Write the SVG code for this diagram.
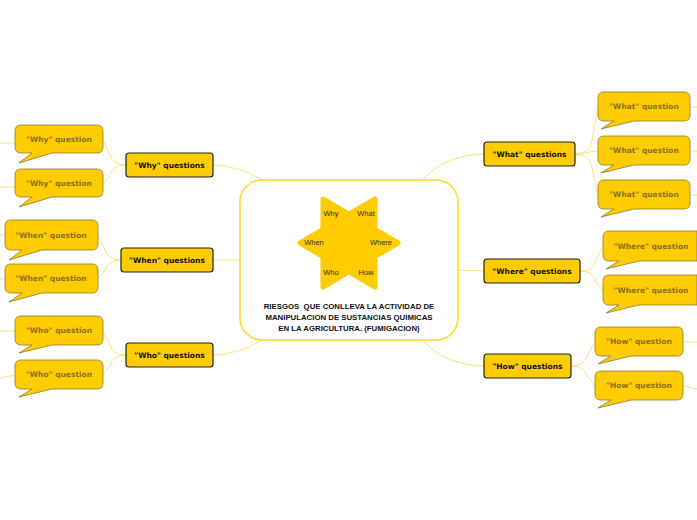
<svg xmlns="http://www.w3.org/2000/svg" width="697" height="520" viewBox="0 0 697 520">
<defs>
<style>
.c{fill:none;stroke:#FFE27A;stroke-width:1}
.m{fill:#FFCC00;stroke:#222;stroke-width:1.2}
.mt{font-family:"DejaVu Sans",sans-serif;font-size:7.5px;font-weight:bold;fill:#111;text-anchor:middle}
.q{fill:#FFCC00;stroke:#8a7a30;stroke-width:0.8}
.qt{font-family:"DejaVu Sans",sans-serif;font-size:7.5px;font-weight:bold;fill:#8a7020;text-anchor:middle}
.st{font-family:"Liberation Sans",sans-serif;font-size:7.5px;fill:#333;text-anchor:middle}
.ct{font-family:"Liberation Sans",sans-serif;font-size:7.8px;font-weight:bold;fill:#111;text-anchor:middle}
</style>
</defs>
<rect width="697" height="520" fill="#fff"/>
<g id="connectors">
<path class="c" d="M262 180 Q240 166 213 165"/>
<path class="c" d="M240 260 L213 260"/>
<path class="c" d="M262 340 Q240 354 213 355"/>
<path class="c" d="M422 180 Q445 155 484 154"/>
<path class="c" d="M458 270 L484 271"/>
<path class="c" d="M422 340 Q445 365 484 366"/>
<path class="c" d="M126 165 Q113 165 110 155 L103 140 M126 165 Q113 165 110 175 L103 184"/>
<path class="c" d="M121 260 Q108 260 105 250 L98 235 M121 260 Q108 260 105 270 L98 279"/>
<path class="c" d="M126 355 Q113 355 110 345 L103 331 M126 355 Q113 355 110 365 L103 375"/>
<path class="c" d="M575 154 Q590 154 592 140 L598 107 M575 154 L598 151 M575 154 Q590 154 592 168 L598 195"/>
<path class="c" d="M580 271 Q594 271 596 260 L603 246 M580 271 Q594 271 596 282 L603 290"/>
<path class="c" d="M571 366 Q584 366 587 356 L595 342 M571 366 Q584 366 587 376 L595 386"/>
<path class="c" d="M15 143 L0 143 M15 187 L0 187 M5 235 L0 235 M5 279 L0 279 M15 331 L0 331 M15 375 L0 378"/>
<path class="c" d="M690 107 L697 107 M690 151 L697 151 M690 195 L697 195 M683 342 L697 342 M683 386 L697 389"/>
</g>
<g id="center">
<rect x="240" y="180" width="218" height="160" rx="22" fill="#fff" stroke="#FFD92E" stroke-width="1.6"/>
<polygon points="323,199 398,243 323,287" fill="#FFCC00" stroke="#FFCC00" stroke-width="5" stroke-linejoin="round"/>
<polygon points="375,199 300,243 375,287" fill="#FFCC00" stroke="#FFCC00" stroke-width="5" stroke-linejoin="round"/>
<text class="st" x="331" y="216">Why</text>
<text class="st" x="366" y="216">What</text>
<text class="st" x="314" y="245">When</text>
<text class="st" x="381" y="245">Where</text>
<text class="st" x="331" y="275">Who</text>
<text class="st" x="366" y="275">How</text>
<text class="ct" x="349" y="309" xml:space="preserve">RIESGOS  QUE CONLLEVA LA ACTIVIDAD DE</text>
<text class="ct" x="349" y="320">MANIPULACION DE SUSTANCIAS QUIMICAS</text>
<text class="ct" x="349" y="331">EN LA AGRICULTURA. (FUMIGACION)</text>
</g>
<g id="why"><rect class="m" x="126" y="153" width="87" height="24" rx="3"/><text class="mt" x="169.5" y="168">"Why" questions</text></g>
<g id="when"><rect class="m" x="121" y="248" width="92" height="24" rx="3"/><text class="mt" x="167" y="263">"When" questions</text></g>
<g id="who"><rect class="m" x="126" y="343" width="87" height="24" rx="3"/><text class="mt" x="169.5" y="358">"Who" questions</text></g>
<g id="what"><rect class="m" x="484" y="142" width="91" height="24" rx="3"/><text class="mt" x="529.5" y="157">"What" questions</text></g>
<g id="where"><rect class="m" x="484" y="259" width="96" height="24" rx="3"/><text class="mt" x="532" y="274">"Where" questions</text></g>
<g id="how"><rect class="m" x="484" y="354" width="87" height="24" rx="3"/><text class="mt" x="527.5" y="369">"How" questions</text></g>
<g id="why1"><path class="q" d="M21 125 H97 Q103 125 103 131 V147 Q103 153 97 153 H52 L19 163 L32 153 H21 Q15 153 15 147 V131 Q15 125 21 125 Z"/><text class="qt" x="59" y="142">"Why" question</text></g>
<g id="why2"><path class="q" d="M21 169 H97 Q103 169 103 175 V191 Q103 197 97 197 H52 L19 207 L32 197 H21 Q15 197 15 191 V175 Q15 169 21 169 Z"/><text class="qt" x="59" y="186">"Why" question</text></g>
<g id="when1"><path class="q" d="M11 220 H92 Q98 220 98 226 V244 Q98 250 92 250 H42 L9 260 L22 250 H11 Q5 250 5 244 V226 Q5 220 11 220 Z"/><text class="qt" x="51" y="238">"When" question</text></g>
<g id="when2"><path class="q" d="M11 264 H92 Q98 264 98 270 V287 Q98 293 92 293 H42 L9 302 L22 293 H11 Q5 293 5 287 V270 Q5 264 11 264 Z"/><text class="qt" x="51" y="281">"When" question</text></g>
<g id="who1"><path class="q" d="M21 316 H97 Q103 316 103 322 V339 Q103 345 97 345 H52 L19 353 L32 345 H21 Q15 345 15 339 V322 Q15 316 21 316 Z"/><text class="qt" x="59" y="333">"Who" question</text></g>
<g id="who2"><path class="q" d="M21 360 H97 Q103 360 103 366 V383 Q103 389 97 389 H52 L19 397 L32 389 H21 Q15 389 15 383 V366 Q15 360 21 360 Z"/><text class="qt" x="59" y="377">"Who" question</text></g>
<g id="what1"><path class="q" d="M604 92 H684 Q690 92 690 98 V115 Q690 121 684 121 H634 L601 129 L614 121 H604 Q598 121 598 115 V98 Q598 92 604 92 Z"/><text class="qt" x="644" y="109">"What" question</text></g>
<g id="what2"><path class="q" d="M604 136 H684 Q690 136 690 142 V159 Q690 165 684 165 H634 L601 173 L614 165 H604 Q598 165 598 159 V142 Q598 136 604 136 Z"/><text class="qt" x="644" y="153">"What" question</text></g>
<g id="what3"><path class="q" d="M604 180 H684 Q690 180 690 186 V203 Q690 209 684 209 H634 L601 217 L614 209 H604 Q598 209 598 203 V186 Q598 180 604 180 Z"/><text class="qt" x="644" y="197">"What" question</text></g>
<g id="where1"><path class="q" d="M609 231 H697 V261 H639 L606 269 L619 261 H609 Q603 261 603 255 V237 Q603 231 609 231 Z"/><text class="qt" x="651" y="249">"Where" question</text></g>
<g id="where2"><path class="q" d="M609 275 H697 V305 H639 L606 313 L619 305 H609 Q603 305 603 299 V281 Q603 275 609 275 Z"/><text class="qt" x="651" y="293">"Where" question</text></g>
<g id="how1"><path class="q" d="M601 327 H677 Q683 327 683 333 V350 Q683 356 677 356 H631 L598 364 L611 356 H601 Q595 356 595 350 V333 Q595 327 601 327 Z"/><text class="qt" x="639" y="344">"How" question</text></g>
<g id="how2"><path class="q" d="M601 371 H677 Q683 371 683 377 V394 Q683 400 677 400 H631 L598 408 L611 400 H601 Q595 400 595 394 V377 Q595 371 601 371 Z"/><text class="qt" x="639" y="388">"How" question</text></g>
</svg>
